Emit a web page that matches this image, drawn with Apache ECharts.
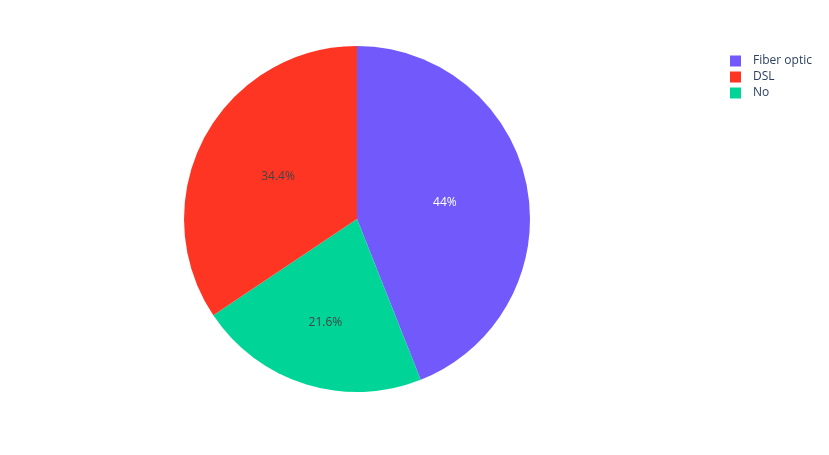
<!DOCTYPE html>
<html>
<head>
<meta charset="utf-8">
<script src="https://cdn.jsdelivr.net/npm/echarts@6/dist/echarts.min.js"></script>
<style>
html,body{margin:0;padding:0;background:#fff;}
#chart{width:829px;height:455px;}
</style>
</head>
<body>
<div id="chart"></div>
<script>
// Slice data in drawing order (clockwise from 12 o'clock)
const categories = ['Fiber optic', 'No', 'DSL'];
const values = [44.0, 21.6, 34.4];
const colors = ['#7159fc', '#00d597', '#ff3524'];
const labelColors = ['#ffffff', '#444444', '#444444'];
const legendOrder = ['Fiber optic', 'DSL', 'No'];

const total = values.reduce((a, b) => a + b, 0);
function fmtPct(v) {
  const p = v / total * 100;
  return parseFloat(p.toPrecision(3)) + '%';
}

const chart = echarts.init(document.getElementById('chart'));
chart.setOption({
  animation: false,
  legend: {
    data: legendOrder,
    orient: 'vertical',
    left: 725,
    top: 50,
    itemWidth: 11,
    itemHeight: 11,
    itemGap: 4,
    icon: 'rect',
    textStyle: { color: '#2a3f5f', fontSize: 12, padding: [0, 0, 0, 7], fontFamily: 'Open Sans, Verdana, Arial, sans-serif' }
  },
  series: [{
    type: 'pie',
    center: [357, 219],
    radius: [0, 173],
    startAngle: 90,
    clockwise: true,
    avoidLabelOverlap: false,
    label: {
      show: true,
      position: 'inside',
      fontSize: 12,
      fontFamily: 'Open Sans, Verdana, Arial, sans-serif',
      formatter: (p) => fmtPct(p.value)
    },
    labelLayout: (params) => params.dataIndex === 1 ? { dx: -5, dy: 18 } : {},
    labelLine: { show: false },
    emphasis: { disabled: true },
    itemStyle: { borderWidth: 0 },
    data: categories.map((c, i) => ({
      name: c,
      value: values[i],
      itemStyle: { color: colors[i] },
      label: { color: labelColors[i] }
    }))
  }]
});
</script>
</body>
</html>
